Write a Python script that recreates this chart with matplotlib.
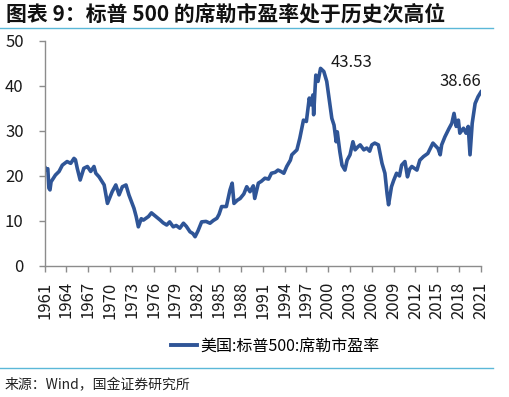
import matplotlib
matplotlib.use("Agg")
import matplotlib.pyplot as plt
from matplotlib.lines import Line2D

plt.rcParams['font.family'] = ['Noto Sans CJK SC', 'DejaVu Sans']

years = [1961.0, 1961.3, 1961.45, 1961.6, 1961.75, 1961.9, 1962.5, 1963.0, 1963.45, 1964.1,
         1964.6, 1965.05, 1965.25, 1965.5, 1965.9, 1966.4, 1966.9, 1967.35, 1967.8, 1968.05,
         1968.5, 1969.2, 1969.65, 1970.3, 1970.8, 1971.25, 1971.7, 1972.2, 1972.6, 1973.3,
         1973.6, 1973.9, 1974.3, 1974.6, 1975.3, 1975.7, 1976.3, 1976.9, 1977.3, 1977.8,
         1978.2, 1978.7, 1979.1, 1979.6, 1980.1, 1980.5, 1981.0, 1981.4, 1981.7, 1982.1,
         1982.6, 1983.2, 1983.75, 1984.2, 1984.7, 1985.0, 1985.35, 1986.0, 1986.5, 1986.8,
         1987.05, 1987.5, 1987.9, 1988.4, 1988.8, 1989.25, 1989.7, 1989.9, 1990.4, 1990.8,
         1991.3, 1991.8, 1992.2, 1992.7, 1993.1, 1993.5, 1993.9, 1994.3, 1994.8, 1995.0,
         1995.7, 1996.1, 1996.6, 1997.0, 1997.4, 1997.6, 1997.9, 1998.0, 1998.3, 1998.6,
         1998.95, 1999.4, 1999.8, 2000.25, 2000.5, 2000.8, 2001.1, 2001.25, 2001.6, 2001.9,
         2002.3, 2002.6, 2003.0, 2003.4, 2003.7, 2004.1, 2004.4, 2004.9, 2005.3, 2005.7,
         2006.0, 2006.4, 2006.9, 2007.4, 2007.8, 2008.1, 2008.3, 2008.7, 2009.0, 2009.4,
         2009.8, 2010.1, 2010.55, 2010.9, 2011.2, 2011.5, 2012.2, 2012.6, 2013.1, 2013.7,
         2014.4, 2015.1, 2015.4, 2015.6, 2016.05, 2016.6, 2017.0, 2017.3, 2017.6, 2017.9,
         2018.1, 2018.6, 2018.95, 2019.25, 2019.5, 2019.8, 2020.2, 2020.6, 2020.9, 2021.0]

cape = [22.1, 21.3, 21.6, 17.3, 16.9, 18.7, 20.2, 21.0, 22.4, 23.2,
        22.8, 23.9, 23.6, 21.7, 19.1, 21.7, 22.1, 21.0, 22.1, 20.6,
        19.8, 18.0, 13.9, 16.5, 18.0, 15.8, 17.6, 18.0, 15.8, 12.8,
        11.0, 8.7, 10.5, 10.2, 11.0, 11.8, 11.0, 10.2, 9.6, 9.1,
        9.8, 8.7, 9.0, 8.4, 9.5, 8.8, 7.6, 7.2, 6.5, 7.8,
        9.8, 9.9, 9.5, 10.1, 10.6, 11.5, 13.2, 13.2, 16.9, 18.4,
        13.9, 14.6, 15.0, 16.0, 17.6, 16.5, 17.8, 15.0, 18.4, 18.8,
        19.5, 19.3, 20.6, 20.8, 21.3, 21.0, 20.6, 22.1, 23.5, 24.7,
        25.8, 28.4, 32.4, 32.1, 37.3, 35.8, 38.0, 33.6, 42.4, 41.0,
        43.9, 43.2, 41.0, 35.8, 32.8, 31.3, 27.6, 29.8, 25.4, 22.4,
        21.3, 23.5, 24.7, 27.6, 25.8, 26.5, 26.9, 25.8, 26.2, 25.5,
        26.9, 27.3, 26.9, 22.8, 20.6, 16.0, 13.6, 17.6, 19.0, 20.6,
        20.0, 22.4, 23.2, 19.8, 21.5, 22.1, 21.3, 23.5, 24.3, 25.0,
        27.3, 26.1, 24.7, 26.9, 28.7, 30.5, 31.7, 33.9, 31.0, 32.4,
        29.5, 30.6, 29.5, 31.0, 24.7, 31.7, 36.1, 37.6, 38.4, 38.66]

tick_years = list(range(1961, 2022, 3))
y_ticks = [0, 10, 20, 30, 40, 50]
annotations = [(2000.4, 45.1, "43.53", "left"), (2021.0, 40.9, "38.66", "right")]

title = "图表 9：标普 500 的席勒市盈率处于历史次高位"
series_name = "美国:标普500:席勒市盈率"
source = "来源：Wind，国金证券研究所"

line_color = "#2F5597"
rule_color = "#5BB8D8"
spine_color = "#8C8C8C"

fig = plt.figure(figsize=(5.10, 3.97), dpi=100)
ax = fig.add_axes([0.0873, 0.330, 0.8557, 0.567])

ax.plot(years, cape, color=line_color, lw=2.6, solid_joinstyle='round')
ax.set_xlim(1961, 2021)
ax.set_ylim(0, 50)
ax.set_yticks(y_ticks)
ax.set_xticks(tick_years)
ax.set_xticklabels([str(y) for y in tick_years], rotation=90)

for s in ['top', 'right']:
    ax.spines[s].set_visible(False)
for s in ['left', 'bottom']:
    ax.spines[s].set_color(spine_color)
    ax.spines[s].set_linewidth(1.0)

ax.tick_params(axis='y', length=4, width=1, color=spine_color, pad=11, labelsize=12, labelcolor='#1a1a1a')
ax.tick_params(axis='x', length=4, width=1, color=spine_color, pad=7, labelsize=12, labelcolor='#1a1a1a')

for x, y, txt, ha in annotations:
    ax.text(x, y, txt, ha=ha, va='center', fontsize=12, color='#1a1a1a')

handle = Line2D([], [], color=line_color, lw=2.8)
fig.legend([handle], [series_name], loc='center', bbox_to_anchor=(0.54, 0.128),
           frameon=False, fontsize=11.5, handlelength=1.6, handletextpad=0.2)

fig.text(0.012, 0.965, title, ha='left', va='center', fontsize=15, fontweight='bold', color='#111111')
fig.add_artist(Line2D([0, 0.967], [0.929, 0.929], color=rule_color, lw=1.0))
fig.add_artist(Line2D([0, 0.967], [0.073, 0.073], color=rule_color, lw=1.0))
fig.text(0.008, 0.030, source, ha='left', va='center', fontsize=10, color='#222222')

fig.savefig("out.png", dpi=100, facecolor='white')
